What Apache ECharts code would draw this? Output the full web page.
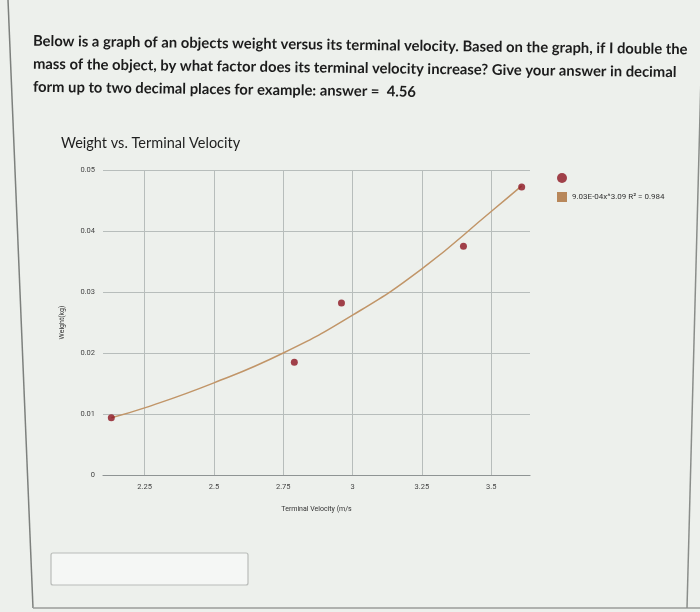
<!DOCTYPE html>
<html>
<head>
<meta charset="utf-8">
<script src="https://cdn.jsdelivr.net/npm/echarts@6/dist/echarts.min.js"></script>
<style>
html,body{margin:0;padding:0;background:#edf0ec;}
#c{width:700px;height:612px;}
</style>
</head>
<body>
<div id="c"></div>
<script>
// Data
var velocity = [2.13, 2.79, 2.96, 3.40, 3.61];
var weight = [0.0094, 0.0185, 0.0282, 0.0375, 0.0472];
var trendX = [2.13, 2.25, 2.5, 2.75, 3.0, 3.25, 3.5, 3.61];
var trendY = [0.0094, 0.0110, 0.0151, 0.0200, 0.0262, 0.0338, 0.0432, 0.0474];
var xTicks = [2.25, 2.5, 2.75, 3, 3.25, 3.5];
var yTicks = [0, 0.01, 0.02, 0.03, 0.04, 0.05];
var trendName = '9.03E-04x^3.09 R\u00B2 = 0.984';
var questionLines = [
  'Below is a graph of an objects weight versus its terminal velocity. Based on the graph, if I double the',
  'mass of the object, by what factor does its terminal velocity increase? Give your answer in decimal',
  'form up to two decimal places for example: answer =  4.56'
];

var points = velocity.map(function (v, i) { return [v, weight[i]]; });
var trend = trendX.map(function (v, i) { return [v, trendY[i]]; });

var chart = echarts.init(document.getElementById('c'));
var textColor = '#1c1c1c';
var graphics = [
  { type: 'line', shape: { x1: 8, y1: 0, x2: 33, y2: 608 }, style: { stroke: '#7d807d', lineWidth: 1.5 }, z: 10 },
  { type: 'line', shape: { x1: 33, y1: 608, x2: 700, y2: 608 }, style: { stroke: '#9a9d9a', lineWidth: 1.5 }, z: 10 },
  { type: 'line', shape: { x1: 703, y1: 0, x2: 687, y2: 608 }, style: { stroke: '#8a8d8a', lineWidth: 1.5 }, z: 10 },
  { type: 'rect', shape: { x: 51, y: 553, width: 197, height: 32, r: 2 }, style: { fill: '#f5f7f5', stroke: '#b9bcb9', lineWidth: 1.2 }, z: 10 }
];
questionLines.forEach(function (t, i) {
  graphics.push({
    type: 'text', x: 33, y: 41 + i * 23, rotation: -0.013, originX: 0, originY: 0,
    style: { text: t, font: 'bold 14.8px Lato', fill: textColor, textVerticalAlign: 'middle' }, z: 10
  });
});

chart.setOption({
  backgroundColor: '#edf0ec',
  animation: false,
  textStyle: { fontFamily: 'Lato' },
  title: {
    text: 'Weight vs. Terminal Velocity', left: 56, top: 131,
    textStyle: { fontSize: 14.5, fontWeight: 'normal', color: '#1f1f1f', fontFamily: 'Lato' }
  },
  legend: {
    orient: 'vertical', left: 552, top: 168, itemGap: 9,
    itemWidth: 10, itemHeight: 10,
    textStyle: { fontSize: 8, color: '#333', fontFamily: 'Roboto' },
    data: [
      { name: ' ', icon: 'circle' },
      { name: trendName, icon: 'rect', itemStyle: { color: '#b8875a' } }
    ]
  },
  grid: { left: 103, right: 170, top: 170, bottom: 137 },
  xAxis: {
    type: 'value', min: 2.1, max: 3.64,
    name: 'Terminal Velocity (m/s', nameLocation: 'middle', nameGap: 31,
    nameTextStyle: { fontSize: 7, color: '#333', fontFamily: 'Roboto' },
    axisLine: { show: true, lineStyle: { color: '#8f9494', width: 1.2 } },
    axisTick: { show: false, customValues: xTicks },
    axisLabel: { customValues: xTicks, fontSize: 7.5, color: '#444', margin: 8, fontFamily: 'Roboto' },
    splitLine: { show: true, lineStyle: { color: '#b7bdbb', width: 1 } }
  },
  yAxis: {
    type: 'value', min: 0, max: 0.05, interval: 0.01,
    name: 'Weight(kg)', nameLocation: 'middle', nameGap: 37, nameRotate: 90,
    nameTextStyle: { fontSize: 7, color: '#333', fontFamily: 'Roboto' },
    axisLine: { show: false },
    axisTick: { show: false },
    axisLabel: { fontSize: 7.5, color: '#444', margin: 8, fontFamily: 'Roboto',
      formatter: function (v) { return yTicks.indexOf(v) >= 0 ? String(v) : ''; } },
    splitLine: { show: true, lineStyle: { color: '#b7bdbb', width: 1 } }
  },
  series: [
    {
      name: trendName, type: 'line', data: trend, smooth: true, showSymbol: false,
      lineStyle: { color: '#c19568', width: 1.5 }, itemStyle: { color: '#b8875a' }, z: 2
    },
    {
      name: ' ', type: 'scatter', data: points, symbolSize: 7,
      itemStyle: { color: '#8c1420' }, z: 3
    }
  ],
  graphic: graphics
});
</script>
</body>
</html>
